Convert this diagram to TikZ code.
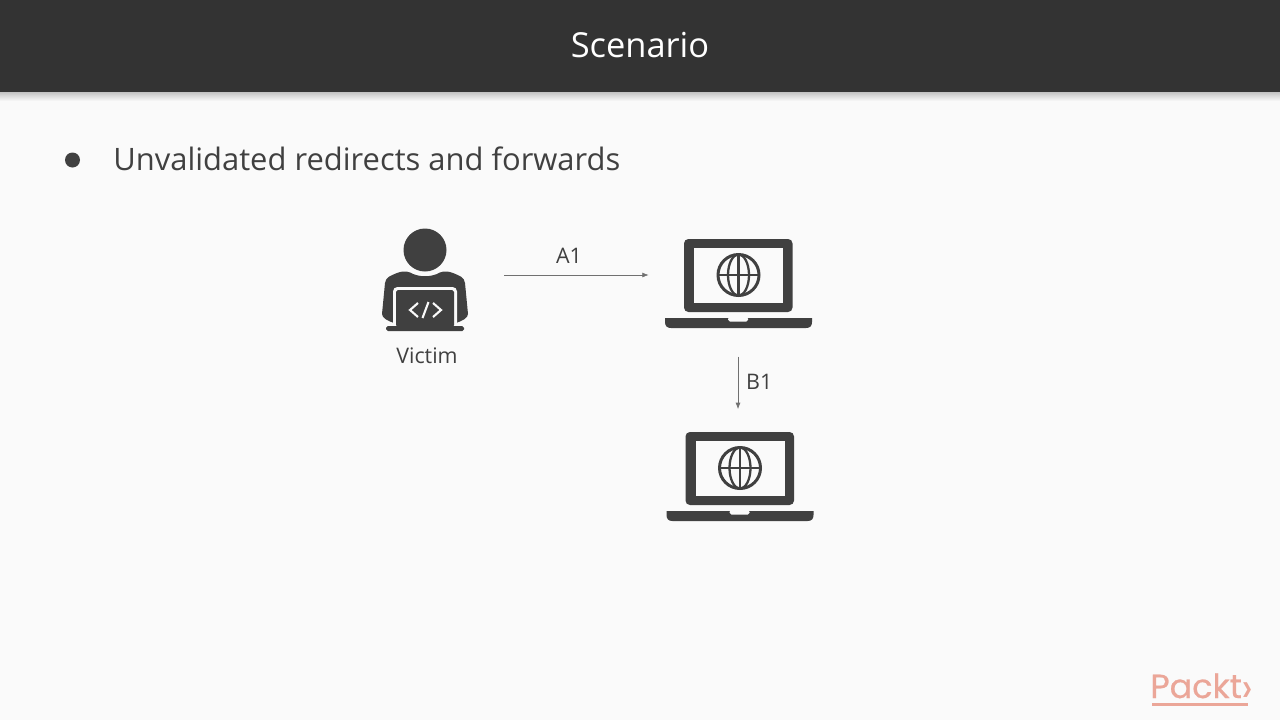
\documentclass[tikz,border=0pt]{standalone}
\usepackage{fontspec}
\setmainfont{Open Sans}
\newfontfamily\logofont[FakeBold=0.6]{Poppins}
\newfontfamily\logomark{Poppins}
\usetikzlibrary{arrows.meta,calc}
\definecolor{slide}{HTML}{FAFAFA}
\definecolor{band}{HTML}{333333}
\definecolor{ink}{HTML}{404040}
\definecolor{logo}{HTML}{EBA698}
\tikzset{
	iconbox/.style={minimum width=#1,inner sep=0pt,outer sep=0pt},
	flow/.style={-{Latex[length=3.6pt,width=2.8pt]},line width=0.35pt,draw=ink!75,fill=ink},
	label/.style={text=ink,font=\fontsize{12.2}{14}\selectfont,inner sep=0pt}
}
\begin{document}
\begin{tikzpicture}[x=0.02cm,y=-0.02cm]
%background
\useasboundingbox (0,0) rectangle (1280,720);
\fill[slide] (0,0) rectangle (1280,720);
\shade[top color=black!24,bottom color=slide] (0,92) rectangle (1280,101);
\fill[band] (0,0) rectangle (1280,92);
\node[text=white,font=\fontsize{19.6}{22}\selectfont,inner sep=0pt] (title) at (640,45.5) {Scenario};
%bullet
\fill[ink] (72.5,160) circle (7.5);
\node[anchor=west,text=ink,font=\fontsize{17.6}{20}\selectfont,inner sep=0pt] (point) at (113,159) {Unvalidated redirects and forwards};
%icon boxes
\node[iconbox=49pt,minimum height=63.7pt] (victim) at (425,275) {};
\node[iconbox=83.6pt,minimum height=60.3pt] (siteA) at (738,275) {};
\node[iconbox=83.6pt,minimum height=50.6pt] (siteB) at (740,476.5) {};
%person
\fill[ink] (425,250) circle (21.5);
\fill[ink] (397,273) .. controls (405,270) and (410,272) .. (413,274) .. controls (421,277) and (429,277) .. (437,274)
	.. controls (440,272) and (445,270) .. (453,273) .. controls (460,276) and (464,277) .. (465,283) -- (468,314)
	.. controls (468,318) and (462,321) .. (456,323) -- (394,323) .. controls (388,321) and (382,318) .. (382,314)
	-- (385,283) .. controls (386,277) and (390,276) .. (397,273) -- cycle;
\fill[slide,rounded corners=2.5pt] (393,327) -- (393,287) -- (457,287) -- (457,327) -- cycle;
\fill[ink,rounded corners=1pt] (396,327) -- (396,290) -- (454,290) -- (454,327) -- cycle;
\fill[ink,rounded corners=1pt] (386,326) rectangle (464,331);
\draw[slide,line width=1.2pt] (418,303) -- (410,310) -- (418,317);
\draw[slide,line width=1.2pt] (428.5,302) -- (422.5,318);
\draw[slide,line width=1.2pt] (433,303) -- (441,310) -- (433,317);
\node[label] (victimname) at (427,356) {Victim};
%laptops
\foreach \dx/\dy in {0/0,1.5/193}
{
\begin{scope}[shift={(\dx,\dy)}]
\fill[ink,rounded corners=2.5pt] (684,312) -- (684,239) -- (792.5,239) -- (792.5,312) -- cycle;
\fill[slide] (694,248) rectangle (783,303);
\fill[ink] (665,318) -- (812,318) -- (812,322) .. controls (812,326) and (810,328) .. (806,328) -- (671,328) .. controls (667,328) and (665,326) .. (665,322) -- cycle;
\fill[slide,rounded corners=1pt] (728,317) -- (728,321.5) -- (748,321.5) -- (748,317) -- cycle;
\draw[ink,line width=1.7pt] (738.5,275) circle (20.5);
\draw[ink,line width=1.3pt] (738.5,275) ellipse (10.5 and 20.5);
\draw[ink,line width=1.3pt] (738.5,254.5) -- (738.5,295.5);
\draw[ink,line width=1.3pt] (718,275) -- (759,275);
\end{scope}
}
%connectors
\draw[flow,shorten <=20.5pt,shorten >=9.1pt] (victim) -- node[label,above=6.5pt,xshift=1.5pt] (aone) {A1} (siteA);
\draw[flow,shorten <=16.5pt,shorten >=13.1pt] (siteA.south) -- node[label,right=4.5pt,yshift=-1.2pt] (bone) {B1} (siteA.south |- siteB.north);
%logo
\node[anchor=base west,text=logo,font=\logofont\fontsize{19}{22}\selectfont,inner sep=0pt] (packt) at (1150,698) {Packt\raisebox{-2.6pt}{\logomark\fontsize{24}{22}\selectfont›}};
\fill[logo] (1152,703) rectangle (1248,705.5);
\end{tikzpicture}
\end{document}
